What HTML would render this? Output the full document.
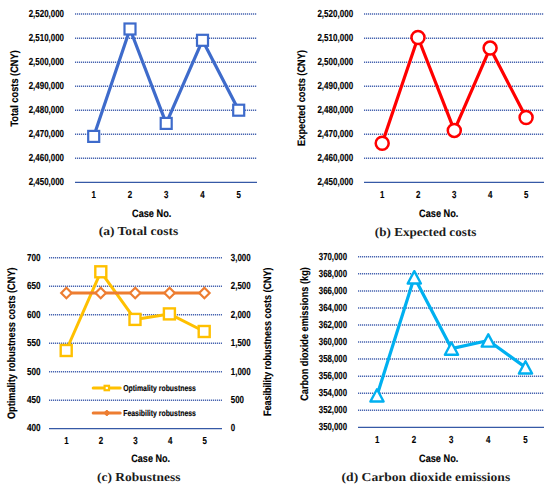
<!DOCTYPE html>
<html><head><meta charset="utf-8"><style>
html,body{margin:0;padding:0;background:#fff;width:550px;height:487px;overflow:hidden}
svg{display:block} text{text-rendering:geometricPrecision}
.sa{font-family:"Liberation Sans", sans-serif;font-weight:bold;fill:#000;stroke:#000;stroke-width:0.15px}
.se{font-family:"Liberation Serif", serif;font-weight:bold;fill:#1c1c1c}
</style></head><body>
<svg width="550" height="487" viewBox="0 0 550 487">
<rect width="550" height="487" fill="#fff"/>
<line x1="75" y1="14.1" x2="257" y2="14.1" stroke="#4764b0" stroke-width="1.5" stroke-dasharray="1.2 0.8"/>
<line x1="75" y1="38.14" x2="257" y2="38.14" stroke="#4764b0" stroke-width="1.5" stroke-dasharray="1.2 0.8"/>
<line x1="75" y1="62.18" x2="257" y2="62.18" stroke="#4764b0" stroke-width="1.5" stroke-dasharray="1.2 0.8"/>
<line x1="75" y1="86.22" x2="257" y2="86.22" stroke="#4764b0" stroke-width="1.5" stroke-dasharray="1.2 0.8"/>
<line x1="75" y1="110.26" x2="257" y2="110.26" stroke="#4764b0" stroke-width="1.5" stroke-dasharray="1.2 0.8"/>
<line x1="75" y1="134.3" x2="257" y2="134.3" stroke="#4764b0" stroke-width="1.5" stroke-dasharray="1.2 0.8"/>
<line x1="75" y1="158.34" x2="257" y2="158.34" stroke="#4764b0" stroke-width="1.5" stroke-dasharray="1.2 0.8"/>
<line x1="75" y1="182.38" x2="257" y2="182.38" stroke="#3659a6" stroke-width="1.3"/>
<text class="sa" x="64.00" y="16.90" font-size="10.2" textLength="35.30" lengthAdjust="spacingAndGlyphs" text-anchor="end">2,520,000</text>
<text class="sa" x="64.00" y="40.94" font-size="10.2" textLength="35.30" lengthAdjust="spacingAndGlyphs" text-anchor="end">2,510,000</text>
<text class="sa" x="64.00" y="64.98" font-size="10.2" textLength="35.30" lengthAdjust="spacingAndGlyphs" text-anchor="end">2,500,000</text>
<text class="sa" x="64.00" y="89.02" font-size="10.2" textLength="35.30" lengthAdjust="spacingAndGlyphs" text-anchor="end">2,490,000</text>
<text class="sa" x="64.00" y="113.06" font-size="10.2" textLength="35.30" lengthAdjust="spacingAndGlyphs" text-anchor="end">2,480,000</text>
<text class="sa" x="64.00" y="137.10" font-size="10.2" textLength="35.30" lengthAdjust="spacingAndGlyphs" text-anchor="end">2,470,000</text>
<text class="sa" x="64.00" y="161.14" font-size="10.2" textLength="35.30" lengthAdjust="spacingAndGlyphs" text-anchor="end">2,460,000</text>
<text class="sa" x="64.00" y="185.18" font-size="10.2" textLength="35.30" lengthAdjust="spacingAndGlyphs" text-anchor="end">2,450,000</text>
<text class="sa" x="93.60" y="198.00" font-size="10.2" textLength="4.40" lengthAdjust="spacingAndGlyphs" text-anchor="middle">1</text>
<text class="sa" x="129.90" y="198.00" font-size="10.2" textLength="4.40" lengthAdjust="spacingAndGlyphs" text-anchor="middle">2</text>
<text class="sa" x="166.10" y="198.00" font-size="10.2" textLength="4.40" lengthAdjust="spacingAndGlyphs" text-anchor="middle">3</text>
<text class="sa" x="202.40" y="198.00" font-size="10.2" textLength="4.40" lengthAdjust="spacingAndGlyphs" text-anchor="middle">4</text>
<text class="sa" x="238.70" y="198.00" font-size="10.2" textLength="4.40" lengthAdjust="spacingAndGlyphs" text-anchor="middle">5</text>
<text class="sa" x="132.00" y="216.60" font-size="10.8" textLength="39.30" lengthAdjust="spacingAndGlyphs">Case No.</text>
<text class="sa" x="17.90" y="126.60" font-size="10.8" textLength="76.40" lengthAdjust="spacingAndGlyphs" transform="rotate(-90 17.90 126.60)">Total costs (CNY)</text>
<text class="se" x="98.70" y="235.20" font-size="12.2" textLength="79.50" lengthAdjust="spacingAndGlyphs">(a) Total costs</text>
<polyline points="93.70,136.40 130.00,29.00 166.20,123.40 202.50,40.30 238.70,110.20" fill="none" stroke="#3e6bcb" stroke-width="3.2" stroke-linejoin="round" stroke-linecap="round"/>
<rect x="88.20" y="130.90" width="11" height="11" fill="#fff" stroke="#3e6bcb" stroke-width="2.2"/>
<rect x="124.50" y="23.50" width="11" height="11" fill="#fff" stroke="#3e6bcb" stroke-width="2.2"/>
<rect x="160.70" y="117.90" width="11" height="11" fill="#fff" stroke="#3e6bcb" stroke-width="2.2"/>
<rect x="197.00" y="34.80" width="11" height="11" fill="#fff" stroke="#3e6bcb" stroke-width="2.2"/>
<rect x="233.20" y="104.70" width="11" height="11" fill="#fff" stroke="#3e6bcb" stroke-width="2.2"/>
<line x1="364" y1="14.1" x2="544" y2="14.1" stroke="#4764b0" stroke-width="1.5" stroke-dasharray="1.2 0.8"/>
<line x1="364" y1="38.14" x2="544" y2="38.14" stroke="#4764b0" stroke-width="1.5" stroke-dasharray="1.2 0.8"/>
<line x1="364" y1="62.18" x2="544" y2="62.18" stroke="#4764b0" stroke-width="1.5" stroke-dasharray="1.2 0.8"/>
<line x1="364" y1="86.22" x2="544" y2="86.22" stroke="#4764b0" stroke-width="1.5" stroke-dasharray="1.2 0.8"/>
<line x1="364" y1="110.26" x2="544" y2="110.26" stroke="#4764b0" stroke-width="1.5" stroke-dasharray="1.2 0.8"/>
<line x1="364" y1="134.3" x2="544" y2="134.3" stroke="#4764b0" stroke-width="1.5" stroke-dasharray="1.2 0.8"/>
<line x1="364" y1="158.34" x2="544" y2="158.34" stroke="#4764b0" stroke-width="1.5" stroke-dasharray="1.2 0.8"/>
<line x1="364" y1="182.38" x2="544" y2="182.38" stroke="#3659a6" stroke-width="1.3"/>
<text class="sa" x="353.10" y="16.90" font-size="10.2" textLength="35.70" lengthAdjust="spacingAndGlyphs" text-anchor="end">2,520,000</text>
<text class="sa" x="353.10" y="40.94" font-size="10.2" textLength="35.70" lengthAdjust="spacingAndGlyphs" text-anchor="end">2,510,000</text>
<text class="sa" x="353.10" y="64.98" font-size="10.2" textLength="35.70" lengthAdjust="spacingAndGlyphs" text-anchor="end">2,500,000</text>
<text class="sa" x="353.10" y="89.02" font-size="10.2" textLength="35.70" lengthAdjust="spacingAndGlyphs" text-anchor="end">2,490,000</text>
<text class="sa" x="353.10" y="113.06" font-size="10.2" textLength="35.70" lengthAdjust="spacingAndGlyphs" text-anchor="end">2,480,000</text>
<text class="sa" x="353.10" y="137.10" font-size="10.2" textLength="35.70" lengthAdjust="spacingAndGlyphs" text-anchor="end">2,470,000</text>
<text class="sa" x="353.10" y="161.14" font-size="10.2" textLength="35.70" lengthAdjust="spacingAndGlyphs" text-anchor="end">2,460,000</text>
<text class="sa" x="353.10" y="185.18" font-size="10.2" textLength="35.70" lengthAdjust="spacingAndGlyphs" text-anchor="end">2,450,000</text>
<text class="sa" x="382.10" y="197.80" font-size="10.2" textLength="4.40" lengthAdjust="spacingAndGlyphs" text-anchor="middle">1</text>
<text class="sa" x="418.10" y="197.80" font-size="10.2" textLength="4.40" lengthAdjust="spacingAndGlyphs" text-anchor="middle">2</text>
<text class="sa" x="454.10" y="197.80" font-size="10.2" textLength="4.40" lengthAdjust="spacingAndGlyphs" text-anchor="middle">3</text>
<text class="sa" x="490.10" y="197.80" font-size="10.2" textLength="4.40" lengthAdjust="spacingAndGlyphs" text-anchor="middle">4</text>
<text class="sa" x="526.10" y="197.80" font-size="10.2" textLength="4.40" lengthAdjust="spacingAndGlyphs" text-anchor="middle">5</text>
<text class="sa" x="419.10" y="216.70" font-size="10.8" textLength="39.30" lengthAdjust="spacingAndGlyphs">Case No.</text>
<text class="sa" x="304.80" y="145.90" font-size="10.8" textLength="95.90" lengthAdjust="spacingAndGlyphs" transform="rotate(-90 304.80 145.90)">Expected costs (CNY)</text>
<text class="se" x="374.80" y="235.50" font-size="12.2" textLength="101.60" lengthAdjust="spacingAndGlyphs">(b) Expected costs</text>
<polyline points="382.20,143.20 418.00,37.50 454.30,130.40 490.10,48.10 526.10,117.50" fill="none" stroke="#ff0000" stroke-width="3.2" stroke-linejoin="round" stroke-linecap="round"/>
<circle cx="382.20" cy="143.20" r="6.5" fill="#fff" stroke="#ff0000" stroke-width="2.5"/>
<circle cx="418.00" cy="37.50" r="6.5" fill="#fff" stroke="#ff0000" stroke-width="2.5"/>
<circle cx="454.30" cy="130.40" r="6.5" fill="#fff" stroke="#ff0000" stroke-width="2.5"/>
<circle cx="490.10" cy="48.10" r="6.5" fill="#fff" stroke="#ff0000" stroke-width="2.5"/>
<circle cx="526.10" cy="117.50" r="6.5" fill="#fff" stroke="#ff0000" stroke-width="2.5"/>
<line x1="49" y1="257.8" x2="222" y2="257.8" stroke="#4764b0" stroke-width="1.5" stroke-dasharray="1.2 0.8"/>
<line x1="49" y1="286.28" x2="222" y2="286.28" stroke="#4764b0" stroke-width="1.5" stroke-dasharray="1.2 0.8"/>
<line x1="49" y1="314.76" x2="222" y2="314.76" stroke="#4764b0" stroke-width="1.5" stroke-dasharray="1.2 0.8"/>
<line x1="49" y1="343.24" x2="222" y2="343.24" stroke="#4764b0" stroke-width="1.5" stroke-dasharray="1.2 0.8"/>
<line x1="49" y1="371.72" x2="222" y2="371.72" stroke="#4764b0" stroke-width="1.5" stroke-dasharray="1.2 0.8"/>
<line x1="49" y1="400.2" x2="222" y2="400.2" stroke="#4764b0" stroke-width="1.5" stroke-dasharray="1.2 0.8"/>
<line x1="49" y1="428.68" x2="222" y2="428.68" stroke="#3659a6" stroke-width="1.3"/>
<text class="sa" x="40.50" y="260.60" font-size="10.2" textLength="13.60" lengthAdjust="spacingAndGlyphs" text-anchor="end">700</text>
<text class="sa" x="40.50" y="289.08" font-size="10.2" textLength="13.60" lengthAdjust="spacingAndGlyphs" text-anchor="end">650</text>
<text class="sa" x="40.50" y="317.56" font-size="10.2" textLength="13.60" lengthAdjust="spacingAndGlyphs" text-anchor="end">600</text>
<text class="sa" x="40.50" y="346.04" font-size="10.2" textLength="13.60" lengthAdjust="spacingAndGlyphs" text-anchor="end">550</text>
<text class="sa" x="40.50" y="374.52" font-size="10.2" textLength="13.60" lengthAdjust="spacingAndGlyphs" text-anchor="end">500</text>
<text class="sa" x="40.50" y="403.00" font-size="10.2" textLength="13.60" lengthAdjust="spacingAndGlyphs" text-anchor="end">450</text>
<text class="sa" x="40.50" y="431.48" font-size="10.2" textLength="13.60" lengthAdjust="spacingAndGlyphs" text-anchor="end">400</text>
<text class="sa" x="230.80" y="260.60" font-size="10.2" textLength="19.78" lengthAdjust="spacingAndGlyphs">3,000</text>
<text class="sa" x="230.80" y="289.08" font-size="10.2" textLength="19.78" lengthAdjust="spacingAndGlyphs">2,500</text>
<text class="sa" x="230.80" y="317.56" font-size="10.2" textLength="19.78" lengthAdjust="spacingAndGlyphs">2,000</text>
<text class="sa" x="230.80" y="346.04" font-size="10.2" textLength="19.78" lengthAdjust="spacingAndGlyphs">1,500</text>
<text class="sa" x="230.80" y="374.52" font-size="10.2" textLength="19.78" lengthAdjust="spacingAndGlyphs">1,000</text>
<text class="sa" x="230.80" y="403.00" font-size="10.2" textLength="13.19" lengthAdjust="spacingAndGlyphs">500</text>
<text class="sa" x="230.80" y="431.48" font-size="10.2" textLength="4.40" lengthAdjust="spacingAndGlyphs">0</text>
<text class="sa" x="66.50" y="444.00" font-size="10.2" textLength="4.40" lengthAdjust="spacingAndGlyphs" text-anchor="middle">1</text>
<text class="sa" x="101.00" y="444.00" font-size="10.2" textLength="4.40" lengthAdjust="spacingAndGlyphs" text-anchor="middle">2</text>
<text class="sa" x="135.50" y="444.00" font-size="10.2" textLength="4.40" lengthAdjust="spacingAndGlyphs" text-anchor="middle">3</text>
<text class="sa" x="170.10" y="444.00" font-size="10.2" textLength="4.40" lengthAdjust="spacingAndGlyphs" text-anchor="middle">4</text>
<text class="sa" x="204.60" y="444.00" font-size="10.2" textLength="4.40" lengthAdjust="spacingAndGlyphs" text-anchor="middle">5</text>
<text class="sa" x="131.30" y="461.70" font-size="10.8" textLength="38.70" lengthAdjust="spacingAndGlyphs">Case No.</text>
<text class="sa" x="14.80" y="419.10" font-size="10.8" textLength="151.70" lengthAdjust="spacingAndGlyphs" transform="rotate(-90 14.80 419.10)">Optimality robustness costs (CNY)</text>
<text class="sa" x="270.70" y="415.90" font-size="10.8" textLength="148.50" lengthAdjust="spacingAndGlyphs" transform="rotate(-90 270.70 415.90)">Feasibility robustness costs (CNY)</text>
<text class="se" x="97.00" y="481.30" font-size="12.2" textLength="83.40" lengthAdjust="spacingAndGlyphs">(c) Robustness</text>
<polyline points="66.20,350.50 100.80,271.80 135.00,319.40 169.40,313.90 204.20,331.50" fill="none" stroke="#ffc000" stroke-width="3" stroke-linejoin="round" stroke-linecap="round"/>
<rect x="60.70" y="345.00" width="11" height="11" fill="#fff" stroke="#ffc000" stroke-width="2.4"/>
<rect x="95.30" y="266.30" width="11" height="11" fill="#fff" stroke="#ffc000" stroke-width="2.4"/>
<rect x="129.50" y="313.90" width="11" height="11" fill="#fff" stroke="#ffc000" stroke-width="2.4"/>
<rect x="163.90" y="308.40" width="11" height="11" fill="#fff" stroke="#ffc000" stroke-width="2.4"/>
<rect x="198.70" y="326.00" width="11" height="11" fill="#fff" stroke="#ffc000" stroke-width="2.4"/>
<polyline points="66.40,293.00 100.70,293.00 135.20,293.00 169.60,293.00 204.40,293.00" fill="none" stroke="#ed7d31" stroke-width="3" stroke-linejoin="round" stroke-linecap="round"/>
<polygon points="66.40,287.80 71.60,293.00 66.40,298.20 61.20,293.00" fill="#fff" stroke="#ed7d31" stroke-width="2.2" stroke-linejoin="miter"/>
<polygon points="100.70,287.80 105.90,293.00 100.70,298.20 95.50,293.00" fill="#fff" stroke="#ed7d31" stroke-width="2.2" stroke-linejoin="miter"/>
<polygon points="135.20,287.80 140.40,293.00 135.20,298.20 130.00,293.00" fill="#fff" stroke="#ed7d31" stroke-width="2.2" stroke-linejoin="miter"/>
<polygon points="169.60,287.80 174.80,293.00 169.60,298.20 164.40,293.00" fill="#fff" stroke="#ed7d31" stroke-width="2.2" stroke-linejoin="miter"/>
<polygon points="204.40,287.80 209.60,293.00 204.40,298.20 199.20,293.00" fill="#fff" stroke="#ed7d31" stroke-width="2.2" stroke-linejoin="miter"/>
<line x1="93.2" y1="388" x2="120.2" y2="388" stroke="#ffc000" stroke-width="3" stroke-linecap="round"/>
<rect x="104.6" y="385.8" width="4.4" height="4.4" fill="#fff" stroke="#ffc000" stroke-width="2.2"/>
<line x1="93.2" y1="413" x2="120.2" y2="413" stroke="#ed7d31" stroke-width="3" stroke-linecap="round"/>
<polygon points="106.8,410 109.8,413 106.8,416 103.8,413" fill="#ed7d31" stroke="#ed7d31" stroke-width="1"/>
<text class="sa" x="123.20" y="390.80" font-size="8.6" textLength="72.70" lengthAdjust="spacingAndGlyphs">Optimality robustness</text>
<text class="sa" x="123.20" y="415.80" font-size="8.6" textLength="72.70" lengthAdjust="spacingAndGlyphs">Feasibility robustness</text>
<line x1="358" y1="256.8" x2="544" y2="256.8" stroke="#4764b0" stroke-width="1.5" stroke-dasharray="1.2 0.8"/>
<line x1="358" y1="273.85" x2="544" y2="273.85" stroke="#4764b0" stroke-width="1.5" stroke-dasharray="1.2 0.8"/>
<line x1="358" y1="290.9" x2="544" y2="290.9" stroke="#4764b0" stroke-width="1.5" stroke-dasharray="1.2 0.8"/>
<line x1="358" y1="307.95" x2="544" y2="307.95" stroke="#4764b0" stroke-width="1.5" stroke-dasharray="1.2 0.8"/>
<line x1="358" y1="325.0" x2="544" y2="325.0" stroke="#4764b0" stroke-width="1.5" stroke-dasharray="1.2 0.8"/>
<line x1="358" y1="342.05" x2="544" y2="342.05" stroke="#4764b0" stroke-width="1.5" stroke-dasharray="1.2 0.8"/>
<line x1="358" y1="359.1" x2="544" y2="359.1" stroke="#4764b0" stroke-width="1.5" stroke-dasharray="1.2 0.8"/>
<line x1="358" y1="376.15" x2="544" y2="376.15" stroke="#4764b0" stroke-width="1.5" stroke-dasharray="1.2 0.8"/>
<line x1="358" y1="393.2" x2="544" y2="393.2" stroke="#4764b0" stroke-width="1.5" stroke-dasharray="1.2 0.8"/>
<line x1="358" y1="410.25" x2="544" y2="410.25" stroke="#4764b0" stroke-width="1.5" stroke-dasharray="1.2 0.8"/>
<line x1="358" y1="427.3" x2="544" y2="427.3" stroke="#3659a6" stroke-width="1.3"/>
<text class="sa" x="347.00" y="259.60" font-size="10.2" textLength="28.20" lengthAdjust="spacingAndGlyphs" text-anchor="end">370,000</text>
<text class="sa" x="347.00" y="276.65" font-size="10.2" textLength="28.20" lengthAdjust="spacingAndGlyphs" text-anchor="end">368,000</text>
<text class="sa" x="347.00" y="293.70" font-size="10.2" textLength="28.20" lengthAdjust="spacingAndGlyphs" text-anchor="end">366,000</text>
<text class="sa" x="347.00" y="310.75" font-size="10.2" textLength="28.20" lengthAdjust="spacingAndGlyphs" text-anchor="end">364,000</text>
<text class="sa" x="347.00" y="327.80" font-size="10.2" textLength="28.20" lengthAdjust="spacingAndGlyphs" text-anchor="end">362,000</text>
<text class="sa" x="347.00" y="344.85" font-size="10.2" textLength="28.20" lengthAdjust="spacingAndGlyphs" text-anchor="end">360,000</text>
<text class="sa" x="347.00" y="361.90" font-size="10.2" textLength="28.20" lengthAdjust="spacingAndGlyphs" text-anchor="end">358,000</text>
<text class="sa" x="347.00" y="378.95" font-size="10.2" textLength="28.20" lengthAdjust="spacingAndGlyphs" text-anchor="end">356,000</text>
<text class="sa" x="347.00" y="396.00" font-size="10.2" textLength="28.20" lengthAdjust="spacingAndGlyphs" text-anchor="end">354,000</text>
<text class="sa" x="347.00" y="413.05" font-size="10.2" textLength="28.20" lengthAdjust="spacingAndGlyphs" text-anchor="end">352,000</text>
<text class="sa" x="347.00" y="430.10" font-size="10.2" textLength="28.20" lengthAdjust="spacingAndGlyphs" text-anchor="end">350,000</text>
<text class="sa" x="377.20" y="443.30" font-size="10.2" textLength="4.40" lengthAdjust="spacingAndGlyphs" text-anchor="middle">1</text>
<text class="sa" x="413.90" y="443.30" font-size="10.2" textLength="4.40" lengthAdjust="spacingAndGlyphs" text-anchor="middle">2</text>
<text class="sa" x="451.10" y="443.30" font-size="10.2" textLength="4.40" lengthAdjust="spacingAndGlyphs" text-anchor="middle">3</text>
<text class="sa" x="488.30" y="443.30" font-size="10.2" textLength="4.40" lengthAdjust="spacingAndGlyphs" text-anchor="middle">4</text>
<text class="sa" x="525.50" y="443.30" font-size="10.2" textLength="4.40" lengthAdjust="spacingAndGlyphs" text-anchor="middle">5</text>
<text class="sa" x="419.00" y="461.90" font-size="10.8" textLength="39.30" lengthAdjust="spacingAndGlyphs">Case No.</text>
<text class="sa" x="307.90" y="400.80" font-size="10.8" textLength="133.60" lengthAdjust="spacingAndGlyphs" transform="rotate(-90 307.90 400.80)">Carbon dioxide emissions (kg)</text>
<text class="se" x="341.60" y="480.60" font-size="12.2" textLength="168.60" lengthAdjust="spacingAndGlyphs">(d) Carbon dioxide emissions</text>
<polyline points="377.00,395.40 414.30,277.30 451.50,348.60 488.30,340.50 525.50,367.40" fill="none" stroke="#00b0f0" stroke-width="3.2" stroke-linejoin="round" stroke-linecap="round"/>
<polygon points="377.00,389.25 383.60,401.55 370.40,401.55" fill="#fff" stroke="#00b0f0" stroke-width="2.4" stroke-linejoin="round"/>
<polygon points="414.30,271.15 420.90,283.45 407.70,283.45" fill="#fff" stroke="#00b0f0" stroke-width="2.4" stroke-linejoin="round"/>
<polygon points="451.50,342.45 458.10,354.75 444.90,354.75" fill="#fff" stroke="#00b0f0" stroke-width="2.4" stroke-linejoin="round"/>
<polygon points="488.30,334.35 494.90,346.65 481.70,346.65" fill="#fff" stroke="#00b0f0" stroke-width="2.4" stroke-linejoin="round"/>
<polygon points="525.50,361.25 532.10,373.55 518.90,373.55" fill="#fff" stroke="#00b0f0" stroke-width="2.4" stroke-linejoin="round"/>
</svg></body></html>
